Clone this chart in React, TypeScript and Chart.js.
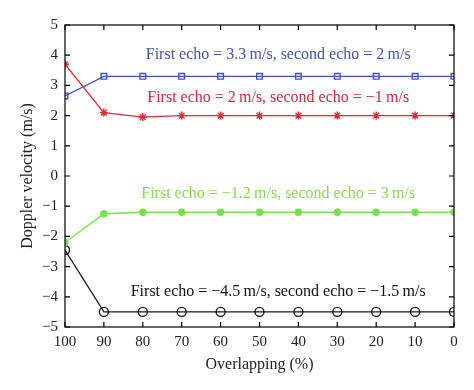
import React, { useEffect, useRef } from "react";
import { Chart, registerables } from "chart.js";

Chart.register(...registerables);

const overlapping = [100, 90, 80, 70, 60, 50, 40, 30, 20, 10, 0];
const seriesBlue = [2.65, 3.3, 3.3, 3.3, 3.3, 3.3, 3.3, 3.3, 3.3, 3.3, 3.3];
const seriesRed = [3.7, 2.1, 1.95, 2.0, 2.0, 2.0, 2.0, 2.0, 2.0, 2.0, 2.0];
const seriesGreen = [-2.2, -1.25, -1.2, -1.2, -1.2, -1.2, -1.2, -1.2, -1.2, -1.2, -1.2];
const seriesBlack = [-2.45, -4.5, -4.5, -4.5, -4.5, -4.5, -4.5, -4.5, -4.5, -4.5, -4.5];
const seriesLabels = [
  "First echo = 3.3\u2009m/s, second echo = 2\u2009m/s",
  "First echo = 2\u2009m/s, second echo = \u22121\u2009m/s",
  "First echo = \u22121.2\u2009m/s, second echo = 3\u2009m/s",
  "First echo = \u22124.5\u2009m/s, second echo = \u22121.5\u2009m/s",
];
const labelX = [45.2, 45.2, 45.2, 45.2];
const labelY = [4.0, 2.6, -0.6, -3.84];
const lineColors = ["#4050d0", "#e02838", "#77e04a", "#1a1a1a"];
const textColors = ["#4652b8", "#cc2a3a", "#8ad85a", "#111111"];

const FONT = "'Liberation Serif', 'DejaVu Serif', serif";

const toPts = (ys: number[]) => overlapping.map((x, i) => ({ x, y: ys[i] }));

const framePlugin = {
  id: "frame",
  afterDraw(chart: any) {
    const { ctx, chartArea: a, scales } = chart;
    const xs = scales.x;
    const ys = scales.y;
    ctx.save();
    ctx.strokeStyle = "#000";
    ctx.lineWidth = 1.2;
    ctx.strokeRect(a.left, a.top, a.right - a.left, a.bottom - a.top);
    const tl = 5;
    ctx.beginPath();
    xs.ticks.forEach((t: any) => {
      const p = xs.getPixelForValue(t.value);
      ctx.moveTo(p, a.bottom);
      ctx.lineTo(p, a.bottom - tl);
      ctx.moveTo(p, a.top);
      ctx.lineTo(p, a.top + tl);
    });
    ys.ticks.forEach((t: any) => {
      const p = ys.getPixelForValue(t.value);
      ctx.moveTo(a.left, p);
      ctx.lineTo(a.left + tl, p);
      ctx.moveTo(a.right, p);
      ctx.lineTo(a.right - tl, p);
    });
    ctx.stroke();
    ctx.font = `16px ${FONT}`;
    ctx.textAlign = "center";
    ctx.textBaseline = "middle";
    seriesLabels.forEach((s, i) => {
      ctx.fillStyle = textColors[i];
      ctx.fillText(s, xs.getPixelForValue(labelX[i]), ys.getPixelForValue(labelY[i]));
    });
    ctx.restore();
  },
};

export default function App() {
  const ref = useRef<HTMLCanvasElement | null>(null);
  useEffect(() => {
    document.body.style.margin = "0";
    const ds = (data: number[], color: string, style: any, fill: boolean, r: number) => ({
      data: toPts(data),
      borderColor: color,
      backgroundColor: fill ? color : "rgba(0,0,0,0)",
      pointBorderColor: color,
      pointBackgroundColor: fill ? color : "rgba(0,0,0,0)",
      pointStyle: style,
      pointRadius: r,
      pointBorderWidth: 1.4,
      borderWidth: 1.3,
      tension: 0,
    });
    const chart = new Chart(ref.current as HTMLCanvasElement, {
      type: "line",
      data: {
        datasets: [
          ds(seriesBlue, lineColors[0], "rect", false, 4),
          ds(seriesRed, lineColors[1], "star", false, 4),
          ds(seriesGreen, lineColors[2], "circle", true, 3),
          ds(seriesBlack, lineColors[3], "circle", false, 4.5),
        ] as any,
      },
      options: {
        animation: false,
        responsive: false,
        layout: { padding: { top: 25, right: 20, left: 0, bottom: 0 } },
        plugins: { legend: { display: false }, tooltip: { enabled: false } },
        scales: {
          x: {
            type: "linear",
            reverse: true,
            min: 0,
            max: 100,
            grid: { drawOnChartArea: false, drawTicks: false },
            border: { display: false },
            ticks: {
              stepSize: 10,
              color: "#222",
              padding: 6,
              font: { family: FONT, size: 15 },
            },
            title: {
              display: true,
              text: "Overlapping (%)",
              color: "#222",
              font: { family: FONT, size: 16 },
              padding: { top: 4, bottom: 16 },
            },
            afterFit(s: any) {
              s.height = 63;
            },
          },
          y: {
            min: -5,
            max: 5,
            grid: { drawOnChartArea: false, drawTicks: false },
            border: { display: false },
            ticks: {
              stepSize: 1,
              color: "#222",
              padding: 7,
              font: { family: FONT, size: 15 },
              callback: (v: any) => String(v).replace("-", "\u2212"),
            },
            title: {
              display: true,
              text: "Doppler velocity (m/s)",
              color: "#222",
              font: { family: FONT, size: 16 },
              padding: { top: 18, bottom: 0 },
            },
            afterFit(s: any) {
              s.width = 65;
            },
          },
        },
      } as any,
      plugins: [framePlugin],
    });
    return () => chart.destroy();
  }, []);
  return <canvas ref={ref} width={474} height={390} style={{ display: "block" }} />;
}
